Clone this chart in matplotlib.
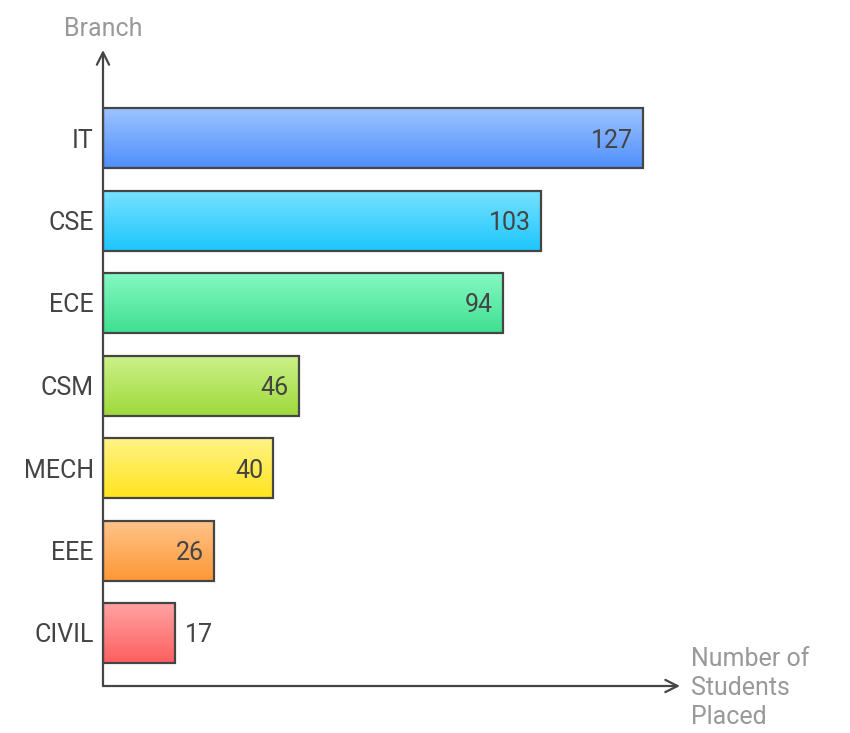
import numpy as np
import matplotlib.pyplot as plt
from matplotlib.colors import LinearSegmentedColormap

plt.rcParams['font.family'] = ['Roboto', 'DejaVu Sans']

branches = ['IT', 'CSE', 'ECE', 'CSM', 'MECH', 'EEE', 'CIVIL']
placed = [127, 103, 94, 46, 40, 26, 17]
top_colors = ['#9cc4ff', '#78e2ff', '#86f8c4', '#cdf28a', '#fff387', '#ffc48a', '#ffa3a3']
bottom_colors = ['#4f8ffc', '#1ec6fd', '#3ee08f', '#9fd93c', '#ffe41c', '#fd9837', '#fd5f5f']

W, H = 850, 733
x0, y0 = 103, 686          # axis origin in pixels
x_end, y_top = 680, 50     # arrow tips
px_per_unit = 4.25
spacing = 82.5
bar_h = 60 / spacing
fs = 18

fig = plt.figure(figsize=(W / 100, H / 100), dpi=100)
ax = fig.add_axes([x0 / W, (H - y0) / H, (x_end - x0) / W, (y0 - y_top) / H])
ax.set_xlim(0, (x_end - x0) / px_per_unit)
ax.set_ylim(6 + (y0 - 633) / spacing, -(138 - y_top) / spacing)
ax.axis('off')

grad = np.linspace(0, 1, 256).reshape(-1, 1)
for i, (name, v) in enumerate(zip(branches, placed)):
    cmap = LinearSegmentedColormap.from_list(name, [top_colors[i], bottom_colors[i]])
    ax.imshow(grad, cmap=cmap, aspect='auto', interpolation='bicubic',
              extent=[0, v, i + bar_h / 2, i - bar_h / 2], zorder=1)
ax.barh(range(len(branches)), placed, height=bar_h, left=0, fill=False,
        edgecolor='#454545', linewidth=1.6, zorder=2)

for i, (name, v) in enumerate(zip(branches, placed)):
    ax.text(-2.2, i, name, ha='right', va='center_baseline', fontsize=fs, color='#444444')
    if v > 20:
        ax.text(v - 2.3, i, str(v), ha='right', va='center_baseline', fontsize=fs, color='#444444')
    else:
        ax.text(v + 2.3, i, str(v), ha='left', va='center_baseline', fontsize=fs, color='#444444')

# axes drawn as arrows
ax.annotate('', xy=(1, 0), xytext=(0, 0), xycoords='axes fraction',
            arrowprops=dict(arrowstyle='->', color='#454545', lw=1.6,
                            mutation_scale=22, shrinkA=0, shrinkB=0))
ax.annotate('', xy=(0, 1), xytext=(0, 0), xycoords='axes fraction',
            arrowprops=dict(arrowstyle='->', color='#454545', lw=1.6,
                            mutation_scale=22, shrinkA=0, shrinkB=0))

fig.text(x0 / W, 1 - 26 / H, 'Branch', ha='center', va='center_baseline',
         fontsize=fs, color='#999999')
fig.text(691 / W, 1 - 688 / H, 'Number of\nStudents\nPlaced', ha='left', va='center',
         fontsize=fs, color='#999999', linespacing=1.28)

fig.savefig('out.png', dpi=100)
